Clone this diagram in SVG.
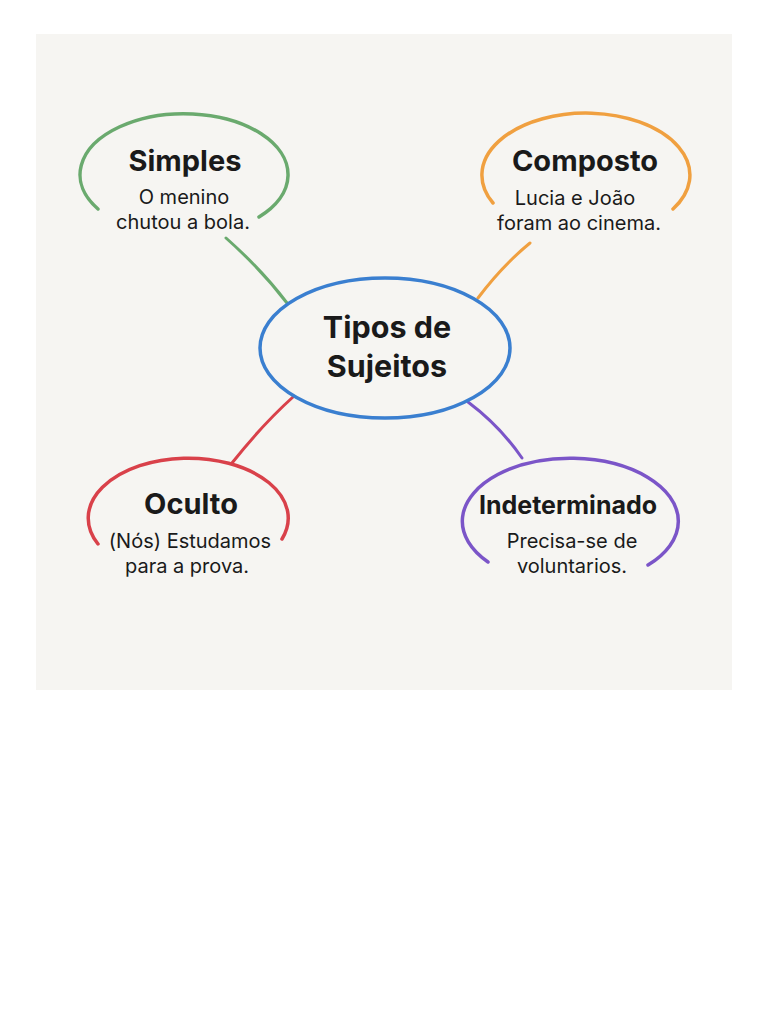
<svg xmlns="http://www.w3.org/2000/svg" width="768" height="1024" viewBox="0 0 768 1024">
<style>
.bg{fill:#f6f5f2}
.arc{fill:none;stroke-width:3.5;stroke-linecap:round}
.conn{fill:none;stroke-width:3;stroke-linecap:round}
.t{font-family:Inter,"Liberation Sans",sans-serif;fill:#1a1a1a;text-anchor:middle}
.h{font-weight:700;font-size:29px}
.b{font-size:20px}
.c{font-weight:700;font-size:30.5px}
</style>
<rect width="768" height="1024" fill="#ffffff"/>
<rect class="bg" x="36" y="34" width="696" height="656"/>
<g id="connectors">
<path class="conn" stroke="#6aaa6e" d="M226 238 Q262 270 287 303"/>
<path class="conn" stroke="#f0a040" d="M478 298 Q502 266 530 243"/>
<path class="conn" stroke="#d9414a" d="M293 397 Q262 425 232 463"/>
<path class="conn" stroke="#7b55c8" d="M468 402 Q500 426 522 458"/>
</g>
<g id="center">
<ellipse cx="385" cy="348" rx="125" ry="70" fill="none" stroke="#3a7fd0" stroke-width="3.5"/>
<text class="t c" x="387" y="338">Tipos de</text>
<text class="t c" x="387" y="377">Sujeitos</text>
</g>
<g id="simples">
<path class="arc" stroke="#6aaa6e" d="M98 209 A104 61 0 1 1 259 217"/>
<text class="t h" x="185" y="171">Simples</text>
<text class="t b" x="184" y="204">O menino</text>
<text class="t b" x="183" y="229">chutou a bola.</text>
</g>
<g id="composto">
<path class="arc" stroke="#f0a040" d="M493 203 A104 62 0 1 1 673 209"/>
<text class="t h" x="585" y="171">Composto</text>
<text class="t b" x="575" y="205">Lucia e João</text>
<text class="t b" x="579" y="230">foram ao cinema.</text>
</g>
<g id="oculto">
<path class="arc" stroke="#d9414a" d="M98 544 A100 60 0 1 1 282 539"/>
<text class="t h" x="191" y="514">Oculto</text>
<text class="t b" x="190" y="548">(Nós) Estudamos</text>
<text class="t b" x="187" y="573">para a prova.</text>
</g>
<g id="indeterminado">
<path class="arc" stroke="#7b55c8" d="M488 562 A108 63 0 1 1 648 565"/>
<text class="t h" x="568" y="514" style="font-size:25px">Indeterminado</text>
<text class="t b" x="572" y="548">Precisa-se de</text>
<text class="t b" x="572" y="573">voluntarios.</text>
</g>
</svg>
